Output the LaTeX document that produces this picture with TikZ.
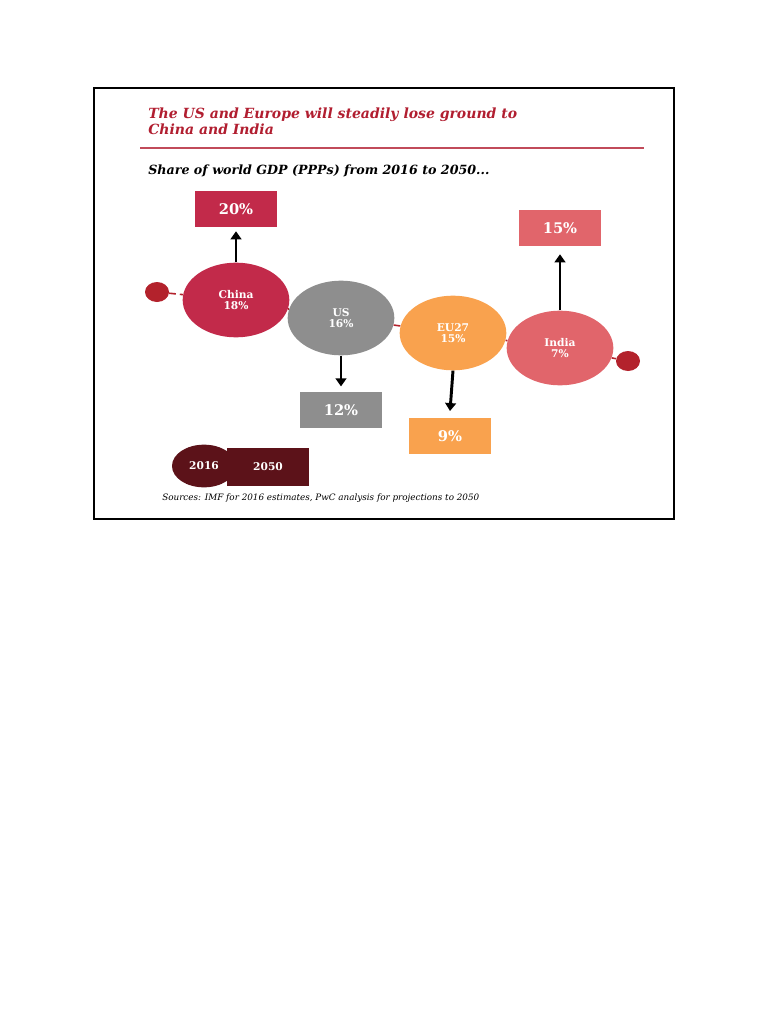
\documentclass[tikz,border=0pt]{standalone}
\usepackage{fontspec}
\setmainfont{DejaVu Serif}
\usetikzlibrary{shapes.geometric,arrows.meta}
\definecolor{chinac}{HTML}{C22A4A}
\definecolor{usc}{HTML}{8E8E8E}
\definecolor{euc}{HTML}{F9A24E}
\definecolor{indc}{HTML}{E1656B}
\definecolor{dotc}{HTML}{B3222C}
\definecolor{darkc}{HTML}{5C1219}
\definecolor{titlec}{HTML}{B11E30}
\begin{document}
\begin{tikzpicture}[x=0.75pt,y=-0.75pt,
  bub/.style={ellipse,minimum width=80,minimum height=56,inner sep=0pt,text=white,align=center,font=\bfseries\fontsize{8}{8.5}\selectfont},
  val/.style={rectangle,minimum width=62,minimum height=27,inner sep=0pt,text=white,font=\bfseries\fontsize{11}{12}\selectfont},
  dot/.style={ellipse,minimum width=18,minimum height=15,inner sep=0pt,fill=dotc},
  arr/.style={-{Triangle[length=6pt,width=8pt]},line width=2.2pt,black},
  lnk/.style={dashed,dotc,line width=1.2pt,dash pattern=on 5pt off 3pt}]
\useasboundingbox (0,0) rectangle (768,1024);
\draw[line width=1pt] (94,88) rectangle (674,519);
\node[anchor=north west,align=left,text=titlec,inner sep=0pt,font=\bfseries\itshape\fontsize{10.5}{11.5}\selectfont] (title) at (148,108) {The US and Europe will steadily lose ground to\\China and India};
\draw[titlec!80,line width=0.8pt] (140,148) -- (644,148);
\node[anchor=west,inner sep=0pt,font=\bfseries\itshape\fontsize{9.5}{10}\selectfont] (sub) at (148,171) {Share of world GDP (PPPs) from 2016 to 2050...};
\node[dot] (dl) at (157,292) {};
\node[dot] (dr) at (628,361) {};
\node[bub,fill=chinac] (china) at (236,300) {China\\18\%};
\node[bub,fill=usc] (us) at (341,318) {US\\16\%};
\node[bub,fill=euc] (eu) at (453,333) {EU27\\15\%};
\node[bub,fill=indc] (india) at (560,348) {India\\7\%};
\draw[lnk] (dl) -- (china);
\draw[lnk] (china) -- (us);
\draw[lnk] (us) -- (eu);
\draw[lnk] (eu) -- (india);
\draw[lnk] (india) -- (dr);
\node[val,fill=chinac] (c50) at (236,209) {20\%};
\node[val,fill=indc] (i50) at (560,228) {15\%};
\node[val,fill=usc] (u50) at (341,410) {12\%};
\node[val,fill=euc] (e50) at (450,436) {9\%};
\draw[arr] (china.north) -- ([yshift=-3]c50.south);
\draw[arr] (india.north) -- ([yshift=-6]i50.south);
\draw[arr] (us.south) -- ([yshift=4]u50.north);
\draw[arr] (eu.south) -- ([yshift=5]e50.north);
\node[ellipse,fill=darkc,minimum width=48,minimum height=32,inner sep=0pt,text=white,font=\bfseries\fontsize{8}{9}\selectfont] (l16) at (204,466) {2016};
\node[val,fill=darkc,minimum width=62,minimum height=28,font=\bfseries\fontsize{8}{9}\selectfont] (l50) at (268,467) {2050};
\node[anchor=west,inner sep=0pt,font=\itshape\fontsize{6.6}{7}\selectfont] (src) at (162,498) {Sources: IMF for 2016 estimates, PwC analysis for projections to 2050};
\end{tikzpicture}
\end{document}
